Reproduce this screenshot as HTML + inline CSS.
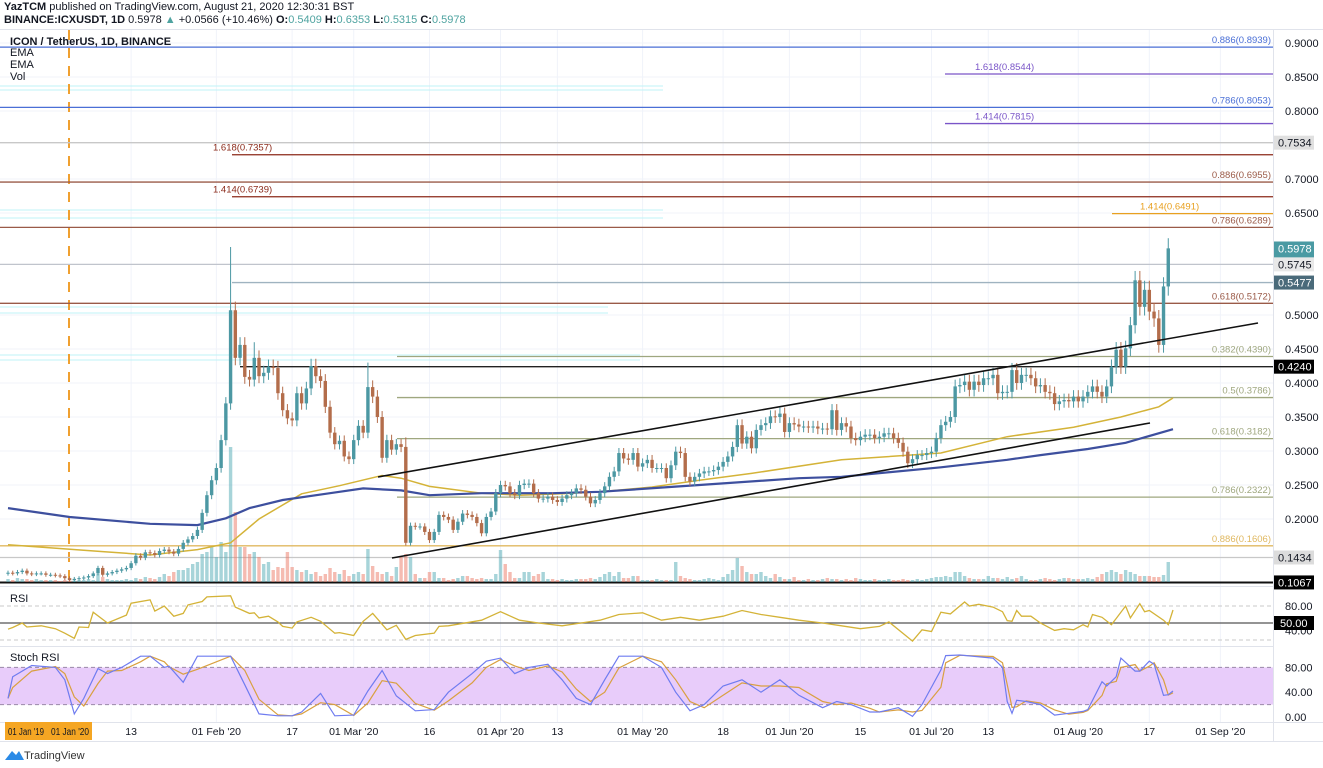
<!DOCTYPE html>
<html><head><meta charset="utf-8">
<style>
html,body{margin:0;padding:0;background:#fff;width:1323px;height:768px;overflow:hidden;font-family:"Liberation Sans",sans-serif;}
#hdr1{position:absolute;left:4px;top:1px;font-size:11px;color:#131722;}
#hdr2{position:absolute;left:4px;top:14px;font-size:11px;color:#131722;}
.tq{color:#4ea3a0}
svg{position:absolute;left:0;top:0}
</style></head><body>
<div id="hdr1"><b>YazTCM</b> published on TradingView.com, August 21, 2020 12:30:31 BST</div>
<div id="hdr2"><b>BINANCE:ICXUSDT, 1D</b> 0.5978 <span class="tq">▲</span> +0.0566 (+10.46%) <b>O:</b><span class="tq">0.5409</span> <b>H:</b><span class="tq">0.6353</span> <b>L:</b><span class="tq">0.5315</span> <b>C:</b><span class="tq">0.5978</span></div>
<svg id="chart" width="1323" height="768" xmlns="http://www.w3.org/2000/svg"></svg>
<script>
const closes=[0.121,0.12,0.122,0.124,0.12,0.119,0.12,0.12,0.118,0.118,0.117,0.116,0.113,0.11,0.112,0.113,0.114,0.116,0.12,
0.128,0.118,0.12,0.122,0.124,0.126,0.128,0.135,0.146,
0.143,0.151,0.15,0.147,0.153,0.155,0.152,0.149,0.156,
0.165,0.17,0.175,0.184,0.209,0.235,0.257,0.275,0.316,0.37,0.507,0.437,0.456,0.409,0.405,0.437,0.41,0.415,0.424,0.422,0.385,0.36,0.348,0.345,0.385,0.37,0.392,0.425,0.41,0.403,0.365,0.327,0.31,0.315,0.292,0.288,0.316,0.337,0.327,0.394,0.38,0.35,0.29,0.316,0.302,0.31,0.306,0.165,0.19,
0.189,0.189,0.181,0.169,0.181,0.206,0.203,0.199,0.184,0.196,0.208,0.206,0.203,0.194,0.179,0.203,0.211,0.238,0.25,0.248,0.238,0.235,0.25,0.252,0.252,0.238,0.23,0.23,0.233,0.228,0.225,0.23,0.235,0.238,0.245,0.243,0.233,0.223,0.228,0.238,0.248,0.262,0.27,0.297,0.289,0.287,0.297,0.277,0.282,0.287,0.275,0.275,0.275,0.26,0.279,0.299,0.297,0.262,0.255,0.262,0.267,0.27,0.27,0.272,0.277,0.284,0.292,0.306,0.338,0.311,0.321,0.304,0.331,0.338,0.341,0.351,0.35,0.355,0.328,0.341,0.339,0.336,0.336,0.335,0.336,0.333,0.333,0.332,0.36,
0.331,0.341,0.336,0.319,0.316,0.321,0.324,0.324,0.319,0.321,0.326,0.326,0.319,0.312,0.299,0.282,0.288,0.294,0.294,0.297,0.299,0.319,0.338,0.343,0.35,0.395,0.397,0.402,0.39,0.402,0.397,0.407,0.407,0.412,0.385,0.387,0.387,0.419,0.4,0.412,0.412,0.407,0.395,0.397,0.387,0.385,0.369,0.373,0.375,0.373,0.38,0.373,0.38,0.387,0.395,0.387,0.38,0.395,0.424,0.449,0.424,0.451,0.485,0.551,0.512,0.537,0.505,0.495,0.456,0.542,0.598];
const keyHighDays=[47,246,76,84,52];
const keyHighVals=[0.60,0.6353,0.43,0.32,0.46];
const volumes=[3,2,4,3,3,2,3,2,2,2,2,1,2,1,1,2,2,3,2,8,5,3,2,2,2,3,2,4,3,5,4,3,5,8,6,10,12,12,14,18,
20,28,30,35,25,40,30,135,70,35,35,28,30,25,18,20,12,15,14,30,15,12,10,12,8,10,6,8,14,10,8,12,6,8,10,8,33,16,10,8,10,6,15,25,28,25,
8,4,4,10,10,4,4,2,3,4,6,6,4,3,4,3,3,8,32,18,10,4,4,10,10,6,8,10,3,3,2,3,2,2,3,3,3,4,3,5,8,10,6,10,4,4,6,6,2,2,2,3,2,2,2,20,6,4,3,2,2,3,4,3,2,5,8,12,24,16,10,8,8,10,6,4,8,5,3,3,5,2,2,3,2,2,3,4,3,
3,2,3,2,4,3,2,2,3,2,2,3,2,2,3,2,2,3,2,3,4,5,5,6,5,10,10,6,4,3,3,3,6,4,4,3,5,3,4,6,3,2,2,3,4,3,2,3,4,4,3,3,3,4,3,5,8,10,12,10,8,12,10,8,6,6,6,5,5,7,20];
const emaSlowDays=[0,13,30,40,46,51,58,68,75,83,89,100,115,125,146,167,176,197,211,218,228,236,246];
const emaSlowVals=[0.216,0.203,0.193,0.191,0.201,0.216,0.228,0.238,0.245,0.242,0.235,0.238,0.238,0.24,0.25,0.26,0.262,0.276,0.287,0.294,0.303,0.312,0.332];
const emaFastDays=[0,20,30,40,47,53,62,70,79,83,89,100,108,117,125,136,146,157,176,197,211,225,235,243,246];
const emaFastVals=[0.162,0.152,0.147,0.155,0.165,0.2,0.237,0.249,0.264,0.26,0.248,0.238,0.235,0.237,0.24,0.247,0.257,0.267,0.287,0.297,0.321,0.335,0.35,0.365,0.378];
const rsiDays=[0,1,3,4,7,10,12,14,15,17,18,21,25,26,30,31,33,35,37,38,41,42,47,48,51,52,53,55,57,58,60,61,64,66,69,70,73,75,77,80,82,84,86,90,91,93,100,104,108,112,117,121,125,129,134,138,142,146,151,155,159,163,167,172,176,180,184,186,191,193,195,197,199,202,203,205,208,210,211,212,213,214,216,218,221,223,225,227,228,229,231,233,234,236,237,239,240,241,244,245,246];
const rsiVals=[39,42,50,43,45,40,32,23,43,42,69,50,64,85,91,71,80,62,67,82,88,96,98,78,67,68,59,62,52,44,41,52,60,53,32,33,28,53,67,38,46,21,28,32,44,45,55,70,55,50,45,50,55,65,68,55,60,55,62,72,65,60,55,50,45,40,44,52,18,38,35,69,66,87,80,83,78,70,54,53,72,62,62,50,37,40,38,47,43,65,60,47,58,80,59,84,70,72,55,47,73];
const stochDays=[0,1,5,10,12,14,16,19,21,24,28,30,33,34,37,40,47,50,53,57,60,62,66,69,73,76,79,82,86,90,93,98,101,104,107,110,114,117,120,123,126,129,134,138,141,144,147,151,155,159,163,167,172,175,178,182,184,188,191,193,197,198,201,208,210,211,212,213,215,218,221,224,227,228,231,232,234,235,238,239,241,242,244,245,246];
const stochK=[30,65,83,80,60,5,30,78,70,80,98,98,80,82,56,98,98,52,5,2,2,8,38,2,3,42,75,34,10,12,40,70,90,95,70,80,85,60,30,20,60,98,98,80,40,10,20,50,60,40,60,35,15,25,20,8,8,15,1,20,76,99,100,95,80,25,6,27,25,20,3,6,9,12,57,50,65,95,74,74,90,85,35,36,42];
const priceTicks=[0.9,0.85,0.8,0.7,0.65,0.5,0.45,0.4,0.35,0.3,0.25,0.2];
const timeLabels=["13","01 Feb '20","17","01 Mar '20","16","01 Apr '20","13","01 May '20","18","01 Jun '20","15","01 Jul '20","13","01 Aug '20","17","01 Sep '20"];
const timeDays=[26,44,60,73,89,104,116,134,151,165,180,195,207,226,241,256];
const fibPrices=[0.8939,0.8544,0.8053,0.7815,0.7534,0.7357,0.6955,0.6739,0.6491,0.6289,0.5745,0.5477,0.5172,0.4390,0.4240,0.3786,0.3182,0.2322,0.1606,0.1434,0.1067];
const fibLabels=["0.886(0.8939)","1.618(0.8544)","0.786(0.8053)","1.414(0.7815)","","1.618(0.7357)","0.886(0.6955)","1.414(0.6739)","1.414(0.6491)","0.786(0.6289)","","","0.618(0.5172)","0.382(0.4390)","","0.5(0.3786)","0.618(0.3182)","0.786(0.2322)","0.886(0.1606)","",""];
const fibStart=[0,945,0,945,0,232,0,232,1112,0,0,232,0,397,240,397,397,397,0,0,0];
const fibColor=["#4a6fd6","#7a55c8","#4a6fd6","#7a55c8","#c8c8c8","#8b2a1a","#9a5a48","#8b2a1a","#e8a020","#9a5a48","#c0c4cc","#9fb3c0","#9a5a48","#9fa77f","#222","#9fa77f","#9fa77f","#9fa77f","#e0b860","#c8c8c8","#111"];
const fibLabelX=[1275,975,1275,975,0,213,1275,213,1140,1275,0,0,1275,1275,0,1275,1275,1275,1275,0,0];

const NS="http://www.w3.org/2000/svg";
const svg=document.getElementById('chart');
const RIGHT=1273;
const step=1165/246;
function xOf(d){return 8+d*step;}
function yP(p){return 315-(p-0.5)*680;}
function yR(v){return 623-(v-50)*0.567;}
function yS(v){return 717-v*0.62;}
function mk(tag,attrs,parent){const e=document.createElementNS(NS,tag);for(const k in attrs)e.setAttribute(k,attrs[k]);(parent||svg).appendChild(e);return e;}
function txt(x,y,s,attrs,parent){const t=mk('text',Object.assign({x:x,y:y,'font-family':'Liberation Sans, sans-serif','font-size':11,fill:'#131722'},attrs||{}),parent);t.textContent=s;return t;}

const grid=mk('g',{});


priceTicks.forEach(p=>{mk('line',{x1:0,x2:RIGHT,y1:yP(p),y2:yP(p),stroke:'#f0f3fa'},grid);});
timeDays.forEach(d=>{mk('line',{x1:xOf(d),x2:xOf(d),y1:30,y2:722,stroke:'#f0f3fa'},grid);});
mk('line',{x1:0,x2:1323,y1:29.5,y2:29.5,stroke:'#e0e3eb'});
mk('line',{x1:0,x2:RIGHT,y1:586.5,y2:586.5,stroke:'#e0e3eb'});
mk('line',{x1:0,x2:RIGHT,y1:646.5,y2:646.5,stroke:'#e0e3eb'});
mk('line',{x1:0,x2:1323,y1:722.5,y2:722.5,stroke:'#e0e3eb'});
mk('line',{x1:0,x2:1323,y1:741.5,y2:741.5,stroke:'#e0e3eb'});
mk('line',{x1:RIGHT+0.5,x2:RIGHT+0.5,y1:29,y2:742,stroke:'#e0e3eb'});

[[86,663],[90,663],[210,663],[218,663],[307,608],[313,608],[355,640],[360,640]].forEach(a=>{mk('line',{x1:0,x2:a[1],y1:a[0],y2:a[0],stroke:'#bff3f7','stroke-width':1});});

const vl=mk('line',{x1:69,x2:69,y1:30,y2:585,stroke:'#f0a030','stroke-width':2,'stroke-dasharray':'10,8'});



fibPrices.forEach((p,i)=>{
  const y=yP(p);
  const g=mk('g',{});
  
  
  mk('line',{x1:fibStart[i],x2:RIGHT,y1:y,y2:y,stroke:fibColor[i],'stroke-width':(p===0.1067?2:1.3)},g);
  if(fibLabels[i]){
    const anchor=fibLabelX[i]>=1270?'end':'start';
    txt(fibLabelX[i]-(anchor==='end'?4:0),y-4,fibLabels[i],{fill:fibColor[i],'font-size':9.5,'text-anchor':anchor},g);
  }
});

const vg=mk('g',{});


for(let i=0;i<Math.min(volumes.length,closes.length);i++){
  const o=i>0?closes[i-1]:closes[0];
  const up=closes[i]>=o;
  mk('rect',{x:xOf(i)-1.7,y:582-volumes[i],width:3.4,height:volumes[i],fill:up?'rgba(80,170,180,0.5)':'rgba(235,120,100,0.5)'},vg);
}

function poly(days,vals,fy,color,w,name){
  const pts=days.map((d,i)=>xOf(d).toFixed(1)+','+fy(vals[i]).toFixed(1)).join(' ');
  const e=mk('polyline',{points:pts,fill:'none',stroke:color,'stroke-width':w});
  
  
  return e;
}
poly(emaFastDays,emaFastVals,yP,'#d4b338',1.5,'ema-fast');
poly(emaSlowDays,emaSlowVals,yP,'#3d4f9e',2.2,'ema-slow');

const cg=mk('g',{});


closes.forEach((c,i)=>{
  const o=i>0?closes[i-1]:closes[0]*0.99;
  const up=c>=o;
  let hi=Math.max(o,c)*1.025, lo=Math.min(o,c)*0.975;
  const k=keyHighDays.indexOf(i); if(k>=0) hi=keyHighVals[k];
  const col=up?'#4c98a3':'#b36d4b';
  const x=xOf(i);
  mk('line',{x1:x,x2:x,y1:yP(hi),y2:yP(lo),stroke:col,'stroke-width':1},cg);
  const yt=yP(Math.max(o,c)), yb=yP(Math.min(o,c));
  mk('rect',{x:x-1.7,y:yt,width:3.4,height:Math.max(1,yb-yt),fill:col},cg);
});

const ch1=mk('line',{x1:378,y1:477,x2:1258,y2:323,stroke:'#111','stroke-width':1.6});


const ch2=mk('line',{x1:392,y1:558,x2:1150,y2:423,stroke:'#111','stroke-width':1.6});



const lg=mk('g',{});


txt(10,45,'ICON / TetherUS, 1D, BINANCE',{'font-weight':'bold'},lg);
txt(10,56,'EMA',{},lg);txt(10,68,'EMA',{},lg);txt(10,80,'Vol',{},lg);

const ax=mk('g',{});


priceTicks.forEach(p=>{txt(1285,yP(p)+4,p.toFixed(4),{},ax);});
function box(y,label,bg,fg,name){
  const g=mk('g',{},ax);
  
  
  mk('rect',{x:1274,y:y-7,width:40,height:14,fill:bg},g);
  txt(1278,y+4,label,{fill:fg},g);
}
box(yP(0.7534),'0.7534','#e0e0e0','#131722','label-0-7534');
box(yP(0.5978),'0.5978','#4a9aa3','#fff','last-price-label');
box(yP(0.5978)+14,'12:29:32','#4a9aa3','#fff','countdown-label');
box(yP(0.5745),'0.5745','#e8e8e8','#131722','label-0-5745');
box(yP(0.5477),'0.5477','#4a6a7a','#fff','label-0-5477');
box(yP(0.4240),'0.4240','#000','#fff','label-0-4240');
box(yP(0.1434),'0.1434','#dcdcdc','#131722','label-0-1434');
box(yP(0.1067),'0.1067','#000','#fff','label-0-1067');

const rg=mk('g',{});


txt(10,602,'RSI',{},rg);
[80,20].forEach(v=>mk('line',{x1:0,x2:RIGHT,y1:yR(v),y2:yR(v),stroke:'#c8c8c8','stroke-dasharray':'4,3'},rg));
mk('line',{x1:0,x2:RIGHT,y1:yR(50),y2:yR(50),stroke:'#555','stroke-width':1.3},rg);
poly(rsiDays,rsiVals,yR,'#d4b338',1.3,'rsi-line');
txt(1285,yR(80)+4,'80.00',{},rg);
txt(1285,yR(40)+6,'40.00',{},rg);
mk('rect',{x:1274,y:yR(50)-7,width:40,height:14,fill:'#000'},rg);
txt(1280,yR(50)+4,'50.00',{fill:'#fff'},rg);

const sg=mk('g',{});


mk('rect',{x:0,y:yS(80),width:RIGHT,height:yS(20)-yS(80),fill:'#e8ccfa'},sg);
[80,20].forEach(v=>mk('line',{x1:0,x2:RIGHT,y1:yS(v),y2:yS(v),stroke:'#9a8aa8','stroke-dasharray':'4,3'},sg));
txt(10,661,'Stoch RSI',{},sg);
const stochD=stochK.map((v,i)=>{const a=stochK[Math.max(0,i-1)];return (v+a)/2;});
poly(stochDays,stochD,yS,'#d9a040',1.2,'stoch-d-line');
poly(stochDays,stochK,yS,'#6f7cf0',1.2,'stoch-k-line');
txt(1285,yS(80)+4,'80.00',{},sg);
txt(1285,yS(40)+4,'40.00',{},sg);
txt(1285,yS(0)+4,'0.00',{},sg);

const tg=mk('g',{});


mk('rect',{x:5,y:722,width:87,height:18,fill:'#f5a623'},tg);
txt(8,735,"01 Jan '19",{'font-size':10,textLength:36,lengthAdjust:'spacingAndGlyphs'},tg);
txt(51,735,"01 Jan '20",{'font-size':10,textLength:38,lengthAdjust:'spacingAndGlyphs'},tg);
timeLabels.forEach((s,i)=>{txt(xOf(timeDays[i]),735,s,{'text-anchor':'middle','font-size':10.5},tg);});

const lo=mk('g',{});


mk('path',{d:'M5 760 L12 751 L16 755 L19 751 L24 760 Z',fill:'#2a8ae6'},lo);
txt(24,759,'TradingView',{'font-size':11,fill:'#333'},lo);
</script>
</body></html>
